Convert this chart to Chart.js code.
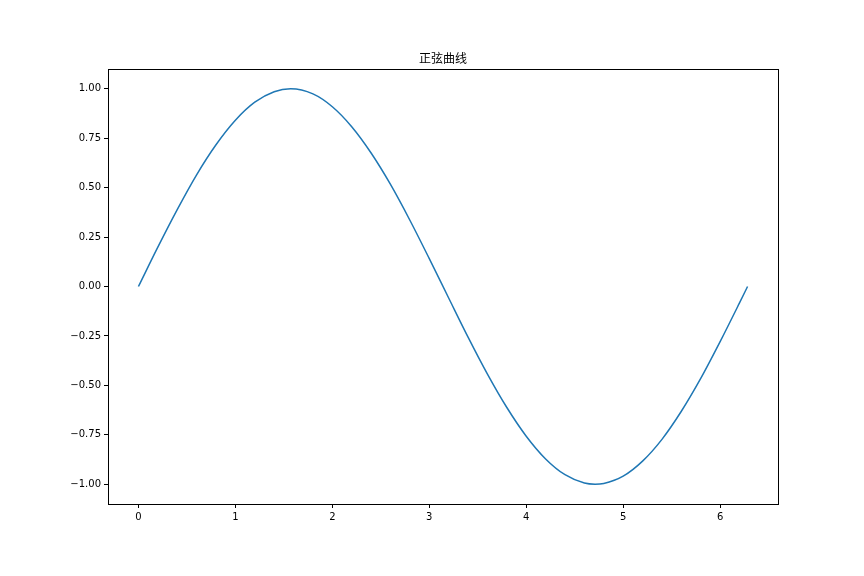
<!DOCTYPE html>
<html>
<head>
<meta charset="utf-8">
<script src="https://cdn.jsdelivr.net/npm/chart.js@4/dist/chart.umd.min.js"></script>
<style>
  html, body { margin: 0; padding: 0; background: #fff; }
</style>
</head>
<body>
<canvas id="myChart" width="864" height="576"></canvas>
<script>
// values
const xs = [0, 0.2, 0.4, 0.6, 0.8, 1.0, 1.2, 1.4, 1.57, 1.8, 2.0, 2.2, 2.4, 2.6, 2.8, 3.0,
            3.2, 3.4, 3.6, 3.8, 4.0, 4.2, 4.4, 4.6, 4.71, 4.8, 5.0, 5.2, 5.4, 5.6, 5.8, 6.0, 6.2, 6.283];
const ys = [0, 0.199, 0.389, 0.565, 0.717, 0.841, 0.932, 0.985, 1.0, 0.974, 0.909, 0.808, 0.675, 0.516, 0.335, 0.141,
            -0.058, -0.256, -0.443, -0.612, -0.757, -0.872, -0.952, -0.994, -1.0, -0.996, -0.959, -0.883, -0.773, -0.631, -0.465, -0.279, -0.083, 0];
const xTicks = [0, 1, 2, 3, 4, 5, 6];
const yTicks = [-1.0, -0.75, -0.5, -0.25, 0, 0.25, 0.5, 0.75, 1.0];
const titleText = '正弦曲线';

// axes frame and title centred over the plot area, like matplotlib
const boxPlugin = {
    id: 'box',
    afterDraw(chart) {
        const a = chart.chartArea;
        const c = chart.ctx;
        c.save();
        c.strokeStyle = '#000';
        c.lineWidth = 1;
        c.strokeRect(Math.round(a.left) + 0.5, Math.round(a.top) + 0.5,
                     Math.round(a.right - a.left), Math.round(a.bottom - a.top));
        c.fillStyle = '#000';
        c.font = "12px 'DejaVu Sans', 'Noto Sans CJK SC'";
        c.textAlign = 'center';
        c.textBaseline = 'alphabetic';
        c.fillText(titleText, (a.left + a.right) / 2, a.top - 6);
        c.restore();
    }
};

const ctx = document.getElementById('myChart').getContext('2d');
const myChart = new Chart(ctx, {
    type: 'line',
    data: {
        datasets: [{
            data: xs.map((x, i) => ({ x: x, y: ys[i] })),
            borderColor: '#1f77b4',
            borderWidth: 1.5,
            pointRadius: 0,
            fill: false,
            cubicInterpolationMode: 'monotone'
        }]
    },
    options: {
        responsive: false,
        animation: false,
        devicePixelRatio: 1,
        layout: { padding: { left: 0, right: 86, top: 69, bottom: 0 } },
        plugins: {
            legend: { display: false },
            tooltip: { enabled: false },
            title: { display: false }
        },
        scales: {
            x: {
                type: 'linear',
                min: -0.314,
                max: 6.597,
                afterBuildTicks: s => { s.ticks = xTicks.map(v => ({ value: v })); },
                afterFit: s => { s.height = 72; },
                grid: { drawOnChartArea: false, drawTicks: true, tickLength: 4, color: '#000' },
                border: { display: false },
                ticks: {
                    color: '#000',
                    padding: 3,
                    maxRotation: 0,
                    font: { family: "'DejaVu Sans'", size: 10 },
                    callback: v => String(v)
                }
            },
            y: {
                type: 'linear',
                min: -1.1,
                max: 1.1,
                afterBuildTicks: s => { s.ticks = yTicks.map(v => ({ value: v })); },
                afterFit: s => { s.width = 108; },
                grid: { drawOnChartArea: false, drawTicks: true, tickLength: 4, color: '#000' },
                border: { display: false },
                ticks: {
                    color: '#000',
                    padding: 3,
                    font: { family: "'DejaVu Sans'", size: 10 },
                    callback: v => v.toFixed(2).replace('-', '\u2212')
                }
            }
        }
    },
    plugins: [boxPlugin]
});
</script>
</body>
</html>
